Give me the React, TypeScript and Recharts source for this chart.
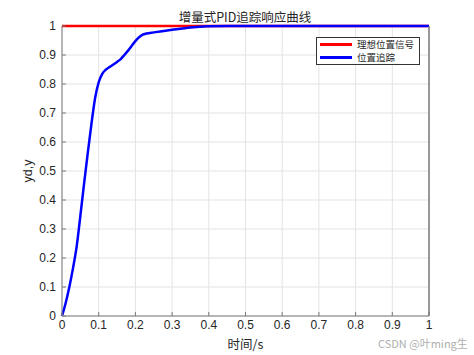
import React from "react";
import { LineChart, Line, XAxis, YAxis, CartesianGrid, ReferenceLine, Label } from "recharts";

// 时间点 (s) 与两条曲线的取值
const time = [0, 0.01, 0.02, 0.03, 0.04, 0.05, 0.06, 0.07, 0.08, 0.09, 0.1, 0.11, 0.12, 0.13, 0.14, 0.15, 0.16, 0.17, 0.18, 0.19, 0.2, 0.21, 0.22, 0.23, 0.25, 0.3, 0.35, 0.4, 0.45, 0.5, 0.6, 0.7, 0.8, 0.9, 1];
const ideal = [1, 1, 1, 1, 1, 1, 1, 1, 1, 1, 1, 1, 1, 1, 1, 1, 1, 1, 1, 1, 1, 1, 1, 1, 1, 1, 1, 1, 1, 1, 1, 1, 1, 1, 1];
const tracking = [0, 0.045, 0.1, 0.165, 0.24, 0.345, 0.455, 0.56, 0.66, 0.75, 0.806, 0.836, 0.85, 0.859, 0.867, 0.876, 0.886, 0.9, 0.915, 0.932, 0.948, 0.961, 0.97, 0.974, 0.978, 0.987, 0.995, 0.999, 1, 1, 1, 1, 1, 1, 1];
const xTicks = [0, 0.1, 0.2, 0.3, 0.4, 0.5, 0.6, 0.7, 0.8, 0.9, 1];
const yTicks = [0, 0.1, 0.2, 0.3, 0.4, 0.5, 0.6, 0.7, 0.8, 0.9, 1];
const seriesNames = ["理想位置信号", "位置追踪"];

const data = time.map((t, i) => ({ t, yd: ideal[i], y: tracking[i] }));

const FONT = "'Liberation Sans', Arial, 'Noto Sans CJK SC', sans-serif";
const CJK = "'Noto Sans CJK SC', sans-serif";
const AXIS = "#7a7a7a";
const TEXT = "#262626";

function LegendBox() {
  const items = [
    { name: seriesNames[0], color: "#ff0000" },
    { name: seriesNames[1], color: "#0000ff" },
  ];
  return (
    <div style={{ position: "absolute", left: 316, top: 37, width: 104, height: 28, border: "1px solid #333", background: "#fff", boxSizing: "border-box", padding: "0 0 0 3px", fontFamily: CJK, fontSize: 9.5, color: TEXT, lineHeight: "13px", whiteSpace: "nowrap" }}>
      {items.map((it) => (
        <div key={it.name} style={{ display: "flex", alignItems: "center", height: 13 }}>
          <span style={{ display: "inline-block", width: 32, height: 2.5, background: it.color, marginRight: 5 }} />
          <span>{it.name}</span>
        </div>
      ))}
    </div>
  );
}

export default function App() {
  return (
    <div style={{ position: "absolute", left: 0, top: 0, width: 474, height: 355, background: "#fff" }}>
      <LineChart width={474} height={355} data={data} margin={{ top: 26, right: 0, bottom: 0, left: 0 }}>
        <CartesianGrid yAxisId="l" stroke="#e3e3e3" />
        <XAxis
          dataKey="t"
          type="number"
          domain={[0, 1]}
          ticks={xTicks}
          height={39}
          stroke={AXIS}
          tickSize={-4}
          tickMargin={8}
          tick={{ fill: TEXT, fontSize: 12, fontFamily: FONT }}
          tickFormatter={(v: number) => String(v)}
        >
          <Label
            content={({ viewBox }: any) => (
              <text x={viewBox.x + viewBox.width / 2} y={viewBox.y + 33} textAnchor="middle" fontSize={12.5} fill={TEXT} fontFamily={CJK}>
                时间/s
              </text>
            )}
          />
        </XAxis>
        <YAxis
          yAxisId="l"
          type="number"
          domain={[0, 1]}
          ticks={yTicks}
          width={62}
          stroke={AXIS}
          tickSize={-4}
          tickMargin={10}
          tick={{ fill: TEXT, fontSize: 12, fontFamily: FONT }}
          tickFormatter={(v: number) => String(v)}
        >
          <Label
            content={({ viewBox }: any) => (
              <text x={32} y={viewBox.y + viewBox.height / 2} textAnchor="middle" fontSize={12.5} fill={TEXT} fontFamily={FONT} transform={`rotate(-90, 32, ${viewBox.y + viewBox.height / 2})`}>
                yd,y
              </text>
            )}
          />
        </YAxis>
        <YAxis yAxisId="r" orientation="right" type="number" domain={[0, 1]} ticks={yTicks} width={45} stroke={AXIS} tickSize={-4} tick={false} />
        <ReferenceLine yAxisId="l" x={1} stroke={AXIS} />
        <ReferenceLine yAxisId="l" y={1} stroke={AXIS} />
        <Line yAxisId="l" dataKey="yd" name={seriesNames[0]} stroke="#ff0000" strokeWidth={2.5} dot={false} type="linear" isAnimationActive={false} />
        <Line yAxisId="l" dataKey="y" name={seriesNames[1]} stroke="#0000ff" strokeWidth={2.5} dot={false} type="monotone" isAnimationActive={false} />
      </LineChart>
      <div style={{ position: "absolute", left: 0, top: 7, width: 490, textAlign: "center", fontFamily: CJK, fontSize: 12.5, color: TEXT }}>
        增量式PID追踪响应曲线
      </div>
      <LegendBox />
      <div style={{ position: "absolute", left: 378, top: 335, fontFamily: CJK, fontSize: 11, color: "#b0b0b0" }}>
        CSDN @叶ming生
      </div>
    </div>
  );
}
